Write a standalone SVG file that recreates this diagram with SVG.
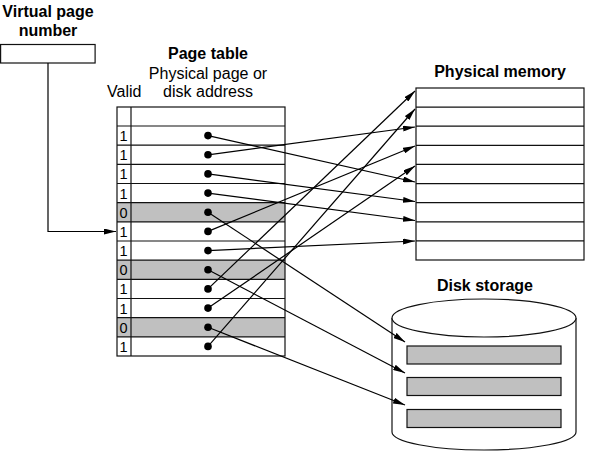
<svg xmlns="http://www.w3.org/2000/svg" width="589" height="452" viewBox="0 0 589 452">
<style>
.b{font-family:"Liberation Sans",Arial,sans-serif;font-weight:bold;font-size:16px;fill:#000}
.r{font-family:"Liberation Sans",Arial,sans-serif;font-size:16px;fill:#000}
.d{font-family:"Liberation Sans",Arial,sans-serif;font-size:14.5px;fill:#000}
.ln{stroke:#111;stroke-width:1.2;fill:none}
.cn{stroke:#000;stroke-width:1.2;fill:none;marker-end:url(#ah)}
.g{fill:#c0c0c0}
</style>
<defs>
<marker id="ah" viewBox="0 0 12 6" refX="12" refY="3" markerWidth="12" markerHeight="6" markerUnits="userSpaceOnUse" orient="auto">
<path d="M0,0 L12,3 L0,6 z" fill="#000"/>
</marker>
</defs>
<rect width="589" height="452" fill="#fff"/>

<g id="vpn">
<text class="b" x="48" y="17" text-anchor="middle">Virtual page</text>
<text class="b" x="48" y="36" text-anchor="middle">number</text>
<rect class="ln" x="0.6" y="44.5" width="94.5" height="18.5"/>
</g>

<g id="page-table">
<text class="b" x="208" y="59" text-anchor="middle">Page table</text>
<text class="r" x="208" y="79" text-anchor="middle">Physical page or</text>
<text class="r" x="208" y="97" text-anchor="middle">disk address</text>
<text class="r" x="107" y="97">Valid</text>
<rect class="g" x="117" y="202.7" width="168" height="19.1"/>
<rect class="g" x="117" y="260.2" width="168" height="19.1"/>
<rect class="g" x="117" y="317.7" width="168" height="19.1"/>
<rect class="ln" x="117" y="107" width="168" height="249"/>
<line class="ln" x1="131" y1="107" x2="131" y2="356"/>
<path class="ln" d="M117,126H285M117,145.2H285M117,164.3H285M117,183.5H285M117,202.7H285M117,221.8H285M117,241H285M117,260.2H285M117,279.3H285M117,298.5H285M117,317.7H285M117,336.8H285"/>
<g class="d">
<text x="119.5" y="141">1</text>
<text x="119.5" y="160.2">1</text>
<text x="119.5" y="179.3">1</text>
<text x="119.5" y="198.5">1</text>
<text x="119.5" y="217.7">0</text>
<text x="119.5" y="236.8">1</text>
<text x="119.5" y="256">1</text>
<text x="119.5" y="275.2">0</text>
<text x="119.5" y="294.3">1</text>
<text x="119.5" y="313.5">1</text>
<text x="119.5" y="332.7">0</text>
<text x="119.5" y="351.8">1</text>
</g>
</g>

<g id="physical-memory">
<text class="b" x="500" y="77" text-anchor="middle">Physical memory</text>
<rect class="ln" x="416" y="88" width="168" height="172"/>
<path class="ln" d="M416,107.1H584M416,126.2H584M416,145.3H584M416,164.4H584M416,183.6H584M416,202.7H584M416,221.8H584M416,240.9H584"/>
</g>

<g id="disk-storage">
<text class="b" x="485" y="291" text-anchor="middle">Disk storage</text>
<path d="M392,318 V432 A92,18 0 0 0 576,432 V318" fill="#fff" stroke="#111" stroke-width="1.2"/>
<ellipse cx="484" cy="318" rx="92" ry="19" fill="#fff" stroke="#111" stroke-width="1.2"/>
<rect class="g" x="407" y="346" width="154" height="18" stroke="#111" stroke-width="1.2"/>
<rect class="g" x="407" y="377.5" width="154" height="18" stroke="#111" stroke-width="1.2"/>
<rect class="g" x="407" y="409.5" width="154" height="18" stroke="#111" stroke-width="1.2"/>
</g>

<g id="connectors">
<polyline class="cn" points="48,63 48,231.5 116,231.5"/>
<line class="cn" x1="208" y1="135.6" x2="415" y2="182"/>
<line class="cn" x1="208" y1="154.8" x2="415" y2="127"/>
<line class="cn" x1="208" y1="173.9" x2="415" y2="201.5"/>
<line class="cn" x1="208" y1="193.1" x2="415" y2="220.5"/>
<line class="cn" x1="208" y1="212.3" x2="405" y2="342"/>
<line class="cn" x1="208" y1="231.4" x2="415" y2="146"/>
<line class="cn" x1="208" y1="250.6" x2="415" y2="241"/>
<line class="cn" x1="208" y1="269.8" x2="405" y2="373"/>
<line class="cn" x1="208" y1="288.9" x2="415" y2="91"/>
<line class="cn" x1="208" y1="308.1" x2="415" y2="166"/>
<line class="cn" x1="208" y1="327.3" x2="405" y2="405"/>
<line class="cn" x1="208" y1="346.4" x2="415" y2="109"/>
</g>

<g id="dots" fill="#000">
<circle cx="208" cy="135.6" r="3.8"/>
<circle cx="208" cy="154.8" r="3.8"/>
<circle cx="208" cy="173.9" r="3.8"/>
<circle cx="208" cy="193.1" r="3.8"/>
<circle cx="208" cy="212.3" r="3.8"/>
<circle cx="208" cy="231.4" r="3.8"/>
<circle cx="208" cy="250.6" r="3.8"/>
<circle cx="208" cy="269.8" r="3.8"/>
<circle cx="208" cy="288.9" r="3.8"/>
<circle cx="208" cy="308.1" r="3.8"/>
<circle cx="208" cy="327.3" r="3.8"/>
<circle cx="208" cy="346.4" r="3.8"/>
</g>
</svg>
